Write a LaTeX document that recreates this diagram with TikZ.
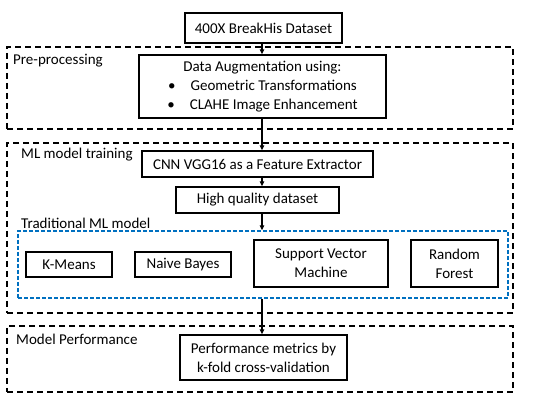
\documentclass[tikz,border=0pt]{standalone}
\usepackage{fontspec}
\setmainfont{Carlito}
\usetikzlibrary{arrows.meta}
\definecolor{officeblue}{RGB}{0,112,192}
\begin{document}
\begin{tikzpicture}[x=1pt,y=-1pt,
  every node/.style={font=\fontsize{15}{19}\selectfont, inner sep=0pt},
  box/.style={draw=black, line width=1.4pt, align=center},
  region/.style={draw=black, line width=1.6pt, dash pattern=on 6pt off 4pt},
  blueregion/.style={draw=officeblue, line width=1.3pt, dash pattern=on 4pt off 2pt},
  lbl/.style={anchor=west},
  arr/.style={line width=1.1pt, -{Triangle[length=5pt,width=4.5pt]}}]
\useasboundingbox (0,0) rectangle (550,401);
\fill[white] (0,0) rectangle (550,401);
% regions
\node[region, minimum width=506pt, minimum height=82pt] (pre) at (260,88) {};
\node[region, minimum width=506pt, minimum height=170pt] (ml) at (260,228) {};
\node[blueregion, minimum width=490pt, minimum height=67pt] (trad) at (263,264.5) {};
\node[region, minimum width=506pt, minimum height=66pt] (perfreg) at (260,359) {};
% labels
\node[lbl] (lpre) at (13,61) {Pre-processing};
\node[lbl] (lml) at (21,155) {ML model training};
\node[lbl] (ltrad) at (21,223) {Traditional ML model};
\node[lbl] (lperf) at (16,339) {Model Performance};
% boxes
\node[box, minimum width=157pt, minimum height=30pt] (top) at (263.5,28) {400X BreakHis Dataset};
\node[box, minimum width=247pt, minimum height=63pt] (da) at (262.5,86.5) {Data Augmentation using:\\\textbullet\quad Geometric Transformations\\\textbullet\quad CLAHE Image Enhancement};
\node[box, minimum width=231pt, minimum height=26pt] (cnn) at (257.5,164) {CNN VGG16 as a Feature Extractor};
\node[box, minimum width=163pt, minimum height=26pt] (hq) at (257.5,200) {High quality dataset};
\node[box, minimum width=86pt, minimum height=25pt] (km) at (69,264.5) {K-Means};
\node[box, minimum width=96pt, minimum height=25pt] (nb) at (183,264.5) {Naive Bayes};
\node[box, minimum width=134pt, minimum height=47pt] (svm) at (321,263.5) {Support Vector\\Machine};
\node[box, minimum width=87pt, minimum height=47pt] (rf) at (454.5,263.5) {Random\\Forest};
\node[box, minimum width=167pt, minimum height=45pt] (perf) at (263.5,357.5) {Performance metrics by\\k-fold cross-validation};
% arrows
\coordinate (ax) at (262,0);
\draw[arr] (ax |- top.south) -- (ax |- da.north);
\draw[arr] (ax |- da.south) -- (ax |- cnn.north);
\draw[arr] (ax |- cnn.south) -- (ax |- hq.north);
\draw[arr] (ax |- hq.south) -- (ax |- trad.north);
\draw[arr] (ax |- trad.south) -- (ax |- perf.north);
\end{tikzpicture}
\end{document}
